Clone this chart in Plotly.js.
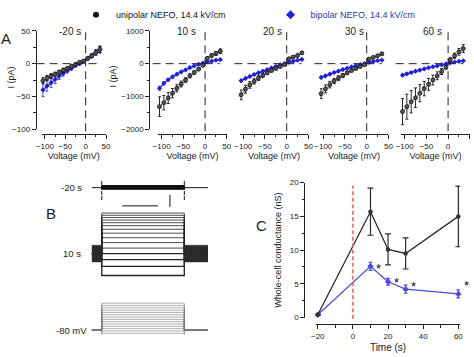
<!DOCTYPE html>
<html><head><meta charset="utf-8">
<script src="https://cdn.plot.ly/plotly-3.0.1.min.js"></script>
<style>html,body{margin:0;padding:0;background:#fff}#chart{width:474px;height:357px}</style>
</head><body><div id="chart"></div>
<script>
// ---------- DATA ----------
// Panel A: I-V relations (voltage in mV, current in pA)
const voltages = [-105,-95,-85,-75,-65,-55,-45,-35,-25,-15,-5,5,15,25,35];
const uniM20 = [-26,-22,-19,-16,-13,-10,-7,-4,-1,2,4,8,12,17,22];
const uniM20Err = [5,4,4,3,3,3,2,2,2,2,2,2,3,4,5];
const biM20 = [-40,-34,-29,-24,-19,-15,-11,-7,-3,0,3,8,12,17,21];
const biM20Err = [10,8,7,6,5,4,3,3,2,2,2,2,3,4,5];

const uni10 = [-1310,-1190,-1045,-900,-750,-620,-500,-370,-270,-170,-50,160,250,310,380];
const uni10Err = [300,220,170,140,110,90,70,60,50,40,30,50,50,60,70];
const bi10 = [-750,-600,-490,-400,-320,-250,-190,-120,-70,-20,20,50,80,110,120];
const bi10Err = [60,50,40,35,30,25,20,20,15,15,15,15,15,20,20];

const uni20 = [-950,-780,-650,-540,-440,-360,-280,-210,-150,-90,-30,150,200,250,330];
const uni20Err = [150,120,100,80,70,60,50,40,35,30,25,30,35,40,40];
const bi20 = [-520,-450,-390,-330,-280,-230,-180,-130,-85,-40,0,40,75,105,130];
const bi20Err = [40,35,30,30,25,20,20,15,15,15,15,15,15,15,20];

const uni30 = [-915,-770,-640,-530,-440,-360,-280,-210,-150,-90,-30,140,190,240,300];
const uni30Err = [150,120,100,80,70,60,50,40,35,30,25,30,35,35,40];
const bi30 = [-420,-370,-320,-270,-225,-180,-140,-100,-65,-30,0,35,65,90,110];
const bi30Err = [40,35,30,25,25,20,20,15,15,15,15,15,15,15,15];

const uni60 = [-1460,-1310,-1160,-1040,-900,-760,-630,-500,-370,-240,-110,120,240,360,460];
const uni60Err = [400,380,340,300,260,220,180,150,120,90,60,60,80,100,120];
const bi60 = [-350,-310,-270,-230,-195,-160,-125,-95,-65,-35,-5,25,50,70,85];
const bi60Err = [30,30,25,25,20,20,15,15,15,15,15,15,15,15,15];

const panelTitles = ['-20 s','10 s','20 s','30 s','60 s'];

// Panel B: example whole-cell current traces (time in ms, current in pA) and voltage protocol (mV)
const protocolTimes = [-28, 0, 0, 230, 230, 296];
const holdingVoltage = -80;
const holdingM20 = -19;
const tracesM20 = [-26,-22,-19,-16,-13,-10,-7,-4,-1,2,4,8,12,17,22];
const transientM20 = [260, -574];
const holding10 = -1000;
const holdNoise10 = [-650, -1350];
const traces10 = [-1920,-1540,-1250,-1000,-770,-540,-335,-145,20,170,295,405,510,605,700];
const scaleBarMs = 100;
const scaleBarPA = 500;

// Panel C: whole-cell conductance (nS) over time (s)
const timeC = [-20, 10, 20, 30, 60];
const uniG = [0.4, 15.7, 10.1, 9.5, 15.0];
const uniGErr = [0.1, 3.5, 2.3, 2.3, 4.5];
const biG = [0.4, 7.6, 5.3, 4.2, 3.5];
const biGErr = [0.1, 0.6, 0.5, 0.6, 0.6];
const sigTime = [10, 20, 30, 60];
const sigG = [7.7, 5.7, 5.1, 5.2];

// ---------- LAYOUT HELPERS ----------
const W = 474, H = 357;
const px = v => v / W;
const py = v => 1 - v / H;
const FONT = 'Liberation Sans, Arial, sans-serif';
const BLUE = '#1f1fe0', BLUE_C = '#4b4be8', BLACK = '#111111', LEGBLUE = '#2a38a8';

const traces = [];
const ivSets = [
  {xa:'x',  ya:'y',  u:uniM20, ue:uniM20Err, b:biM20, be:biM20Err},
  {xa:'x2', ya:'y2', u:uni10,  ue:uni10Err,  b:bi10,  be:bi10Err},
  {xa:'x3', ya:'y2', u:uni20,  ue:uni20Err,  b:bi20,  be:bi20Err},
  {xa:'x4', ya:'y2', u:uni30,  ue:uni30Err,  b:bi30,  be:bi30Err},
  {xa:'x5', ya:'y2', u:uni60,  ue:uni60Err,  b:bi60,  be:bi60Err}
];
ivSets.forEach(s => {
  traces.push({type:'scatter', mode:'lines+markers', x:voltages, y:s.b, xaxis:s.xa, yaxis:s.ya,
    showlegend:false, cliponaxis:false,
    line:{color:BLUE, width:1.2}, marker:{symbol:'diamond', size:4, color:BLUE},
    error_y:{type:'data', array:s.be, visible:true, color:BLUE, thickness:0.8, width:1.5}});
  traces.push({type:'scatter', mode:'lines+markers', x:voltages, y:s.u, xaxis:s.xa, yaxis:s.ya,
    showlegend:false, cliponaxis:false,
    line:{color:'#333', width:0.8}, marker:{symbol:'circle', size:4, color:'#555', line:{color:BLACK, width:0.8}},
    error_y:{type:'data', array:s.ue, visible:true, color:BLACK, thickness:0.9, width:1.5}});
});

// Panel B: -20 s traces (thin holding baseline, thick noisy step band)
traces.push({type:'scatter', mode:'lines', x:protocolTimes,
  y:protocolTimes.map(() => holdingM20), xaxis:'x7', yaxis:'y7', showlegend:false, cliponaxis:false,
  line:{color:BLACK, width:1}});
tracesM20.forEach(lv => {
  traces.push({type:'scatter', mode:'lines', x:protocolTimes.slice(2, 4), y:[lv, lv],
    xaxis:'x7', yaxis:'y7', showlegend:false, cliponaxis:false, hoverinfo:'skip',
    line:{color:BLACK, width:3.2}});
});
[protocolTimes[2], protocolTimes[3]].forEach(t => {
  traces.push({type:'scatter', mode:'lines', x:[t, t], y:transientM20, xaxis:'x7', yaxis:'y7',
    showlegend:false, cliponaxis:false, line:{color:BLACK, width:1, dash:'4px,1px'}});
});
// Panel B: 10 s traces
traces10.forEach((lv, i) => {
  traces.push({type:'scatter', mode:'lines', x:protocolTimes,
    y:[holding10, holding10, lv, lv, holding10, holding10],
    xaxis:'x7', yaxis:'y8', showlegend:false, cliponaxis:false, hoverinfo:'skip',
    line:{color:'#222', width: i < 4 ? 1.3 : 0.8}});
});
[[protocolTimes[0], protocolTimes[1]], [protocolTimes[4], protocolTimes[5]]].forEach(seg => {
  traces.push({type:'scatter', mode:'lines', fill:'toself', fillcolor:'#2a2a2a',
    x:[seg[0], seg[1], seg[1], seg[0], seg[0]],
    y:[holdNoise10[0], holdNoise10[0], holdNoise10[1], holdNoise10[1], holdNoise10[0]],
    xaxis:'x7', yaxis:'y8', showlegend:false, cliponaxis:false, line:{color:'#2a2a2a', width:0.5}});
});
// Panel B: voltage protocol
voltages.forEach(v => {
  traces.push({type:'scatter', mode:'lines', x:protocolTimes,
    y:[holdingVoltage, holdingVoltage, v, v, holdingVoltage, holdingVoltage],
    xaxis:'x7', yaxis:'y9', showlegend:false, cliponaxis:false,
    line:{color:'#777', width:0.6}});
});

// Panel C
traces.push({type:'scatter', mode:'lines+markers', x:timeC, y:biG, xaxis:'x6', yaxis:'y6',
  showlegend:false, cliponaxis:false,
  line:{color:BLUE_C, width:1.3}, marker:{symbol:'diamond', size:5, color:BLUE_C},
  error_y:{type:'data', array:biGErr, visible:true, color:BLUE_C, thickness:1.2, width:2}});
traces.push({type:'scatter', mode:'lines+markers', x:timeC, y:uniG, xaxis:'x6', yaxis:'y6',
  showlegend:false, cliponaxis:false,
  line:{color:'#2a2a2a', width:1.3}, marker:{symbol:'circle', size:4.5, color:'#333'},
  error_y:{type:'data', array:uniGErr, visible:true, color:'#2a2a2a', thickness:1.2, width:3}});

// Legend entries (trailing non-breaking spaces widen the gap between the two entries)
const legendGap = '\u00a0'.repeat(16);
traces.push({type:'scatter', mode:'markers', x:[null], y:[null], xaxis:'x6', yaxis:'y6',
  name:'unipolar NEFO, 14.4 kV/cm' + legendGap, marker:{symbol:'circle', size:6, color:BLACK}});
traces.push({type:'scatter', mode:'markers', x:[null], y:[null], xaxis:'x6', yaxis:'y6',
  name:'<span style="color:' + LEGBLUE + '">bipolar NEFO, 14.4 kV/cm</span>',
  marker:{symbol:'diamond', size:7, color:BLUE}});

// ---------- AXES ----------
const tickFont = {family:FONT, size:8, color:'#222'};
function ax(extra) {
  return Object.assign({
    showline:true, linecolor:'#222', linewidth:1, ticks:'outside', ticklen:4, tickwidth:1,
    tickcolor:'#222', showgrid:false, zeroline:false, tickfont:tickFont, fixedrange:true
  }, extra);
}
const ivX = (d0, d1) => ax({
  domain:[px(d0), px(d1)], range:[-108, 50], anchor:'free', position:py(132.7),
  tickmode:'array', tickvals:[-100,-50,0,50],
  minor:{dtick:25, tick0:0, ticks:'outside', ticklen:2.5, tickcolor:'#222'},
  title:{text:'Voltage (mV)', font:{family:FONT, size:9, color:'#222'}, standoff:2}
});
const hidden = extra => Object.assign({visible:false, fixedrange:true}, extra);

const layout = {
  width:W, height:H, margin:{l:0, r:0, t:0, b:0},
  paper_bgcolor:'#fff', plot_bgcolor:'rgba(0,0,0,0)',
  font:{family:FONT, size:9, color:'#222'},
  showlegend:true,
  legend:{orientation:'h', x:px(76), y:1.005, xanchor:'left', yanchor:'top',
    font:{family:FONT, size:9, color:'#111'}, bgcolor:'rgba(0,0,0,0)', itemwidth:30},
  xaxis:  ivX(41.7, 106),
  xaxis2: ivX(158.2, 226.8),
  xaxis3: ivX(239.8, 308.4),
  xaxis4: ivX(319.8, 388.4),
  xaxis5: ivX(401.2, 469.8),
  yaxis: ax({domain:[py(128), py(29)], range:[-100, 50], anchor:'free', position:px(35.7),
    tickmode:'array', tickvals:[-100,-50,0,50],
    minor:{dtick:25, tick0:0, ticks:'outside', ticklen:2.5, tickcolor:'#222'}}),
  yaxis2: ax({domain:[py(128), py(29)], range:[-2000, 1000], anchor:'free', position:px(149.3),
    tickmode:'array', tickvals:[-2000,-1000,0,1000],
    minor:{dtick:500, tick0:0, ticks:'outside', ticklen:2.5, tickcolor:'#222'}}),
  xaxis6: ax({domain:[px(316), px(460.1)], range:[-21, 61], anchor:'free', position:py(324),
    tickmode:'array', tickvals:[-20,0,20,40,60],
    minor:{dtick:10, tick0:0, ticks:'outside', ticklen:2.5, tickcolor:'#222'},
    title:{text:'Time (s)', font:{family:FONT, size:10, color:'#222'}, standoff:4}}),
  yaxis6: ax({domain:[py(317.3), py(181.7)], range:[0, 20], anchor:'free', position:px(304.3),
    tickmode:'array', tickvals:[0,5,10,15,20],
    minor:{dtick:2.5, tick0:0, ticks:'outside', ticklen:2.5, tickcolor:'#222'},
    title:{text:'Whole-cell conductance (nS)', font:{family:FONT, size:9, color:'#222'}, standoff:5}}),
  xaxis7: hidden({domain:[px(91.7), px(208)], range:[-28, 296], anchor:'y7'}),
  yaxis7: hidden({domain:[py(210), py(178)], range:[-990, 344], anchor:'x7'}),
  yaxis8: hidden({domain:[py(292), py(208)], range:[-2626, 876], anchor:'x7'}),
  yaxis9: hidden({domain:[py(334.77), py(301.2)], range:[-102, 42], anchor:'x7'}),
  shapes: [],
  annotations: []
};

// dashed reference lines in panel A
['x','x2','x3','x4','x5'].forEach((xa, i) => {
  const ya = i === 0 ? 'y' : 'y2';
  layout.shapes.push({type:'line', xref:xa + ' domain', yref:ya, x0:-0.08, x1:0.9, y0:0, y1:0,
    line:{color:'#222', width:1, dash:'8px,5px'}});
  layout.shapes.push({type:'line', xref:xa, yref:ya + ' domain', x0:0, x1:0, y0:-0.02, y1:1.02,
    line:{color:'#222', width:1, dash:'8px,5px'}});
});
// red dashed line at t = 0 in panel C
layout.shapes.push({type:'line', xref:'x6', yref:'y6 domain', x0:0, x1:0, y0:-0.01, y1:0.98,
  line:{color:'#f05a5a', width:1.5, dash:'4px,2.5px'}});
// scale bars in panel B
layout.shapes.push({type:'line', xref:'x7', yref:'y7', x0:57, x1:57 + scaleBarMs, y0:-782, y1:-782,
  line:{color:'#111', width:1}});
layout.shapes.push({type:'line', xref:'x7', yref:'y7', x0:190, x1:190, y0:-323, y1:-323 - scaleBarPA,
  line:{color:'#111', width:1}});

const ann = (text, x, y, o) => layout.annotations.push(Object.assign({
  text, x:px(x), y:py(y), xref:'paper', yref:'paper', showarrow:false,
  xanchor:'center', yanchor:'middle', font:{family:FONT, size:10, color:'#222'}}, o || {}));

ann('A', 6, 37, {font:{family:FONT, size:15, color:'#222'}});
ann('B', 50.5, 212.5, {font:{family:FONT, size:15, color:'#222'}});
ann('C', 261.7, 225, {font:{family:FONT, size:15, color:'#222'}});
const titleX = [70, 186, 272.5, 354, 432.5];
panelTitles.forEach((t, i) => ann(t, titleX[i], 30));
ann('I (pA)', 11, 76, {textangle:-90, font:{family:FONT, size:9, color:'#222'}});
ann('I (pA)', 113, 75, {textangle:-90, font:{family:FONT, size:9, color:'#222'}});
ann('-20 s', 84, 187, {xanchor:'right', font:{family:FONT, size:9.5, color:'#222'}});
ann('10 s', 83, 253, {xanchor:'right', font:{family:FONT, size:9.5, color:'#222'}});
ann('-80 mV', 89, 330, {xanchor:'right', font:{family:FONT, size:9.5, color:'#222'}});
sigTime.forEach((t, i) => layout.annotations.push({text:'*', x:t, y:sigG[i], xref:'x6', yref:'y6',
  xshift:8, yshift:-3, showarrow:false, xanchor:'center', yanchor:'middle',
  font:{family:FONT, size:13, color:'#111'}}));

Plotly.newPlot('chart', traces, layout, {staticPlot:true, displayModeBar:false});
</script></body></html>
